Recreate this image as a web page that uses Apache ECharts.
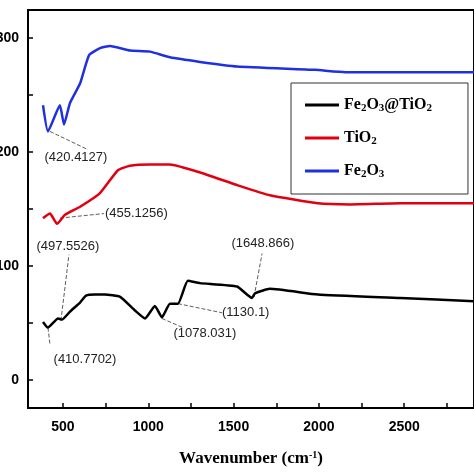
<!DOCTYPE html><html><head><meta charset="utf-8">
<script src="https://cdn.jsdelivr.net/npm/echarts@6/dist/echarts.min.js"></script>
<style>html,body{margin:0;padding:0;background:#fff}#c{width:474px;height:474px}</style></head><body><div id="c"></div>
<script>
const blueX=[383,412,482,506,541,600,653,717,776,893,1010,1127,1303,1520,1977,2155,2477,2910];
const blueY=[241,218,241,224,243,260,285,291,293,289,288,283,279,275,272,270,270,270];
const redX=[383,424,465,512,600,717,822,893,1010,1127,1303,1520,1713,1994,2181,2477,2910];
const redY=[142,146,137,145,152,164,184,188,189,189,182,171,162,155,154,155,155];
const blackX=[383,412,471,494,541,600,635,688,746,835,922,981,1039,1080,1127,1174,1232,1303,1520,1608,1625,1713,1994,2477,2910];
const blackY=[51,46,54,53,60,68,74,75,75,73,61,54,65,55,67,67,87,85,82,72,76,80,75,72,69];
const xLabels=[500,1000,1500,2000,2500];
const xTicks=[500,750,1000,1250,1500,1750,2000,2250,2500,2750];
const yLabels=[0,100,200,300];
const yTicks=[0,50,100,150,200,250,300];
const annText=['(420.4127)','(455.1256)','(497.5526)','(410.7702)','(1078.031)','(1130.1)','(1648.866)'];
const annPt=[[424,218],[482,142],[488,52],[412,46],[1080,54],[1174,67],[1620,73]];
const annEnd=[[647,202],[740,146],[535,110],[424,31],[1203,46],[1432,59],[1667,111]];
const annTxt=[[576,195],[746,146],[529,117],[629,18],[1332,41],[1432,59],[1672,120]];
const annAlign=['center','left','center','center','center','left','center'];
const z=(a,b)=>a.map((v,i)=>[v,b[i]]);
const ch=echarts.init(document.getElementById('c'));
const lf={fontFamily:'Times New Roman, Liberation Serif',fontWeight:'bold',fontSize:16,color:'#000'};
ch.setOption({
 animation:false,
 grid:{left:28,right:0,top:10,bottom:66,containLabel:false,outerBoundsMode:'none',show:true,borderColor:'#000',borderWidth:2},
 xAxis:{type:'value',min:295,max:2909,
  axisLine:{onZero:false,lineStyle:{color:'#000',width:2}},
  axisTick:{customValues:xTicks,lineStyle:{color:'#000',width:1.5},length:5,inside:true},
  axisLabel:{customValues:xLabels,formatter:v=>String(v),color:'#000',fontWeight:'bold',fontSize:14,fontFamily:'Liberation Sans',margin:12},
  splitLine:{show:false},
  name:'{a|Wavenumber (cm}{s|-1}{a|)}',nameLocation:'middle',nameGap:42,
  nameTextStyle:{rich:{a:{...lf,fontSize:17},s:{...lf,fontSize:10,verticalAlign:'top',padding:[0,0,8,0]}}}},
 yAxis:{type:'value',min:-24.5,max:324.5,
  axisLine:{show:true,onZero:false,lineStyle:{color:'#000',width:2}},
  axisTick:{customValues:yTicks,lineStyle:{color:'#000',width:1.5},length:5,inside:true},
  axisLabel:{customValues:yLabels,color:'#000',fontWeight:'bold',fontSize:14,fontFamily:'Liberation Sans',margin:9},
  splitLine:{show:false}},
 legend:{orient:'vertical',left:291,top:83,padding:[14,36,14,14],itemGap:16,
  itemWidth:34,itemHeight:3,icon:'rect',backgroundColor:'#fff',borderColor:'#333',borderWidth:1,
  data:['Fe2O3@TiO2','TiO2','Fe2O3'],
  formatter:n=>n.replace(/(\d)/g,'{s|$1}').replace(/([^{}|\d]+)(?=\{|$)/g,'{a|$1}'),
  textStyle:{rich:{a:{...lf,fontSize:16},s:{...lf,fontSize:11,verticalAlign:'bottom',padding:[7,0,0,0]}}}},
 series:[
  {name:'Fe2O3@TiO2',type:'line',data:z(blackX,blackY),showSymbol:false,smooth:0.15,lineStyle:{color:'#000',width:2.5},itemStyle:{color:'#000'}},
  {name:'TiO2',type:'line',data:z(redX,redY),showSymbol:false,smooth:0.15,lineStyle:{color:'#e00010',width:2.5},itemStyle:{color:'#e00010'}},
  {name:'Fe2O3',type:'line',data:z(blueX,blueY),showSymbol:false,smooth:0.15,lineStyle:{color:'#2030e0',width:2.5},itemStyle:{color:'#2030e0'}}
 ]});
const g=[];
annText.forEach((t,i)=>{
 const p=ch.convertToPixel({gridIndex:0},annPt[i]),e=ch.convertToPixel({gridIndex:0},annEnd[i]),tp=ch.convertToPixel({gridIndex:0},annTxt[i]);
 g.push({type:'line',shape:{x1:p[0],y1:p[1],x2:e[0],y2:e[1]},style:{stroke:'#333',lineWidth:0.8,lineDash:[4,2]}});
 g.push({type:'text',x:tp[0],y:tp[1],style:{text:t,fill:'#222',fontSize:13,fontFamily:'Liberation Sans',align:annAlign[i],verticalAlign:'middle'}});
});
ch.setOption({graphic:g});
</script></body></html>
